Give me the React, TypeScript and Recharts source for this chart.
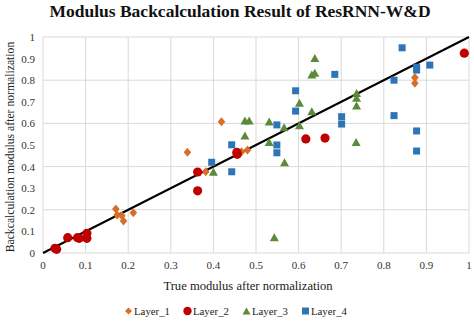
import React from "react";
import {
  CartesianGrid,
  Scatter,
  ScatterChart,
  XAxis,
  YAxis,
} from "recharts";

const TICKS = [0, 0.1, 0.2, 0.3, 0.4, 0.5, 0.6, 0.7, 0.8, 0.9, 1];

const layer1 = [
  { x: 0.171, y: 0.204 },
  { x: 0.174, y: 0.176 },
  { x: 0.185, y: 0.173 },
  { x: 0.189, y: 0.148 },
  { x: 0.212, y: 0.186 },
  { x: 0.339, y: 0.466 },
  { x: 0.382, y: 0.376 },
  { x: 0.419, y: 0.608 },
  { x: 0.466, y: 0.469 },
  { x: 0.48, y: 0.477 },
  { x: 0.873, y: 0.812 },
  { x: 0.873, y: 0.786 },
];

const layer2 = [
  { x: 0.028, y: 0.022 },
  { x: 0.032, y: 0.017 },
  { x: 0.058, y: 0.071 },
  { x: 0.081, y: 0.071 },
  { x: 0.085, y: 0.068 },
  { x: 0.103, y: 0.091 },
  { x: 0.103, y: 0.068 },
  { x: 0.363, y: 0.375 },
  { x: 0.363, y: 0.288 },
  { x: 0.455, y: 0.466 },
  { x: 0.456, y: 0.457 },
  { x: 0.617, y: 0.528 },
  { x: 0.662, y: 0.532 },
  { x: 0.989, y: 0.925 },
];

const layer3 = [
  { x: 0.4, y: 0.374 },
  { x: 0.474, y: 0.611 },
  { x: 0.484, y: 0.611 },
  { x: 0.474, y: 0.542 },
  { x: 0.531, y: 0.607 },
  { x: 0.531, y: 0.512 },
  { x: 0.543, y: 0.071 },
  { x: 0.566, y: 0.58 },
  { x: 0.567, y: 0.418 },
  { x: 0.602, y: 0.589 },
  { x: 0.602, y: 0.693 },
  { x: 0.631, y: 0.654 },
  { x: 0.631, y: 0.824 },
  { x: 0.638, y: 0.832 },
  { x: 0.638, y: 0.901 },
  { x: 0.736, y: 0.739 },
  { x: 0.736, y: 0.716 },
  { x: 0.736, y: 0.68 },
  { x: 0.735, y: 0.511 },
];

const layer4 = [
  { x: 0.396, y: 0.42 },
  { x: 0.443, y: 0.376 },
  { x: 0.443, y: 0.501 },
  { x: 0.549, y: 0.593 },
  { x: 0.549, y: 0.5 },
  { x: 0.549, y: 0.464 },
  { x: 0.593, y: 0.751 },
  { x: 0.593, y: 0.657 },
  { x: 0.685, y: 0.827 },
  { x: 0.701, y: 0.631 },
  { x: 0.701, y: 0.597 },
  { x: 0.824, y: 0.8 },
  { x: 0.824, y: 0.636 },
  { x: 0.843, y: 0.95 },
  { x: 0.877, y: 0.86 },
  { x: 0.877, y: 0.847 },
  { x: 0.877, y: 0.565 },
  { x: 0.877, y: 0.472 },
  { x: 0.908, y: 0.87 },
];

// reference line y = x
const fitLine = [
  { x: 0, y: 0 },
  { x: 1, y: 1 },
];

const ORANGE = "#D86F26";
const RED = "#C00000";
const GREEN = "#5A8A3A";
const BLUE = "#2E75B6";
const SERIF = "'Times New Roman', 'Liberation Serif', serif";

const Diamond = (props: any) => {
  const { cx, cy } = props;
  return (
    <path
      d={`M${cx},${cy - 4.5}L${cx + 3.8},${cy}L${cx},${cy + 4.5}L${cx - 3.8},${cy}Z`}
      fill={ORANGE}
    />
  );
};

const Dot = (props: any) => {
  const { cx, cy } = props;
  return <circle cx={cx} cy={cy} r={4.6} fill={RED} />;
};

const Triangle = (props: any) => {
  const { cx, cy } = props;
  return (
    <path
      d={`M${cx},${cy - 4.5}L${cx + 4.5},${cy + 3.5}L${cx - 4.5},${cy + 3.5}Z`}
      fill={GREEN}
    />
  );
};

const Square = (props: any) => {
  const { cx, cy } = props;
  return <rect x={cx - 3.5} y={cy - 3.5} width={7} height={7} fill={BLUE} />;
};

const legendItems = [
  { name: "Layer_1", color: ORANGE, kind: "diamond" },
  { name: "Layer_2", color: RED, kind: "circle" },
  { name: "Layer_3", color: GREEN, kind: "triangle" },
  { name: "Layer_4", color: BLUE, kind: "square" },
];

function LegendMark({ kind, color }: { kind: string; color: string }) {
  return (
    <svg width={9} height={10} style={{ marginRight: 1 }}>
      {kind === "diamond" && <path d="M4.5,1.5L8,5L4.5,8.5L1,5Z" fill={color} />}
      {kind === "circle" && <circle cx={4.5} cy={5} r={4.2} fill={color} />}
      {kind === "triangle" && <path d="M4.5,1.5L8.5,8.5L0.5,8.5Z" fill={color} />}
      {kind === "square" && <rect x={1} y={1.5} width={7} height={7} fill={color} />}
    </svg>
  );
}

export default function App() {
  return (
    <div
      style={{
        position: "absolute",
        left: 0,
        top: 0,
        width: 474,
        height: 325,
        background: "#fff",
        fontFamily: SERIF,
      }}
    >
      <div
        style={{
          position: "absolute",
          left: 3,
          top: 1,
          width: 474,
          textAlign: "center",
          fontWeight: 700,
          fontSize: 17.5,
          color: "#111",
          fontFamily: SERIF,
        }}
      >
        Modulus Backcalculation Result of ResRNN-W&amp;D
      </div>

      <ScatterChart
        width={474}
        height={325}
        margin={{ top: 37, right: 5, bottom: 52, left: 0 }}
      >
        <CartesianGrid stroke="#D9D9D9" strokeWidth={1} />
        <XAxis
          type="number"
          dataKey="x"
          domain={[0, 1]}
          ticks={TICKS}
          height={20}
          axisLine={false}
          tickLine={false}
          tick={{ fill: "#333", fontSize: 11, fontFamily: SERIF }}
        />
        <YAxis
          type="number"
          dataKey="y"
          domain={[0, 1]}
          ticks={TICKS}
          width={43}
          axisLine={false}
          tickLine={false}
          tick={{ fill: "#333", fontSize: 11, fontFamily: SERIF }}
        />
        <Scatter
          data={fitLine}
          line={{ stroke: "#000", strokeWidth: 2 }}
          shape={() => <g />}
          isAnimationActive={false}
        />
        <Scatter data={layer1} shape={Diamond} isAnimationActive={false} />
        <Scatter data={layer2} shape={Dot} isAnimationActive={false} />
        <Scatter data={layer3} shape={Triangle} isAnimationActive={false} />
        <Scatter data={layer4} shape={Square} isAnimationActive={false} />
      </ScatterChart>

      <div
        style={{
          position: "absolute",
          left: 35,
          top: 279,
          width: 426,
          textAlign: "center",
          fontSize: 12.6,
          color: "#222",
          fontFamily: SERIF,
        }}
      >
        True modulus after normalization
      </div>

      <div
        style={{
          position: "absolute",
          left: 10,
          top: 147,
          transform: "translate(-50%, -50%) rotate(-90deg)",
          whiteSpace: "nowrap",
          fontSize: 11.7,
          color: "#222",
          fontFamily: SERIF,
        }}
      >
        Backcalculation modulus after normalization
      </div>

      <div
        style={{
          position: "absolute",
          left: 124,
          top: 305,
          display: "flex",
          alignItems: "center",
          fontSize: 10.8,
          color: "#222",
          fontFamily: SERIF,
        }}
      >
        {legendItems.map((item) => (
          <div
            key={item.name}
            style={{ display: "flex", alignItems: "center", marginRight: 13 }}
          >
            <LegendMark kind={item.kind} color={item.color} />
            <span>{item.name}</span>
          </div>
        ))}
      </div>
    </div>
  );
}
